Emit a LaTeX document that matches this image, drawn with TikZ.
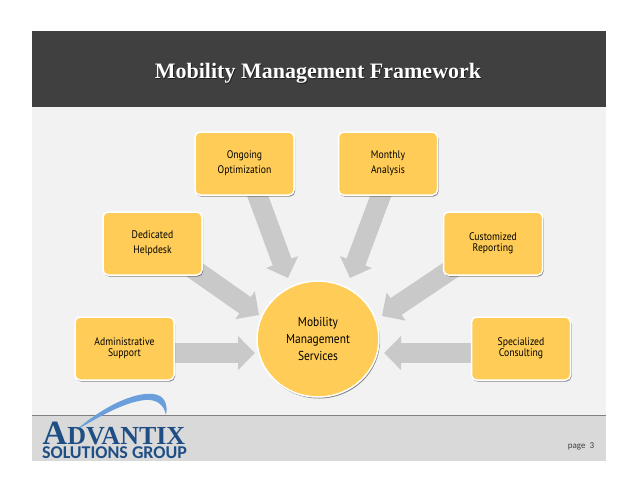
\documentclass[tikz,border=0pt]{standalone}
\usepackage{fontspec}
\setmainfont[FakeStretch=0.88]{PT Sans}
\newfontfamily\titlefont{Liberation Serif}
\newfontfamily\pagefont{Carlito}
\usetikzlibrary{arrows.meta,shadows,backgrounds,shapes.geometric}
\definecolor{headgray}{HTML}{404040}
\definecolor{panelgray}{HTML}{F2F2F2}
\definecolor{footgray}{HTML}{D9D9D9}
\definecolor{boxyellow}{HTML}{FFCD57}
\definecolor{arrowgray}{HTML}{C9C9C9}
\definecolor{logoblue}{HTML}{1F4E85}
\definecolor{swooshblue}{HTML}{6A9FDC}
\tikzset{
	main/.style = {draw=white, fill=boxyellow, line width=1.5pt, rounded corners=5pt,
		minimum width=99pt, minimum height=63pt, inner sep=0pt, align=center,
		font=\fontsize{11}{15}\selectfont, execute at begin node={\rule{0pt}{12pt}},
		drop shadow={shadow xshift=1pt, shadow yshift=-1.5pt, opacity=.45, fill=black}},
	tight/.style = {font=\fontsize{11}{11}\selectfont},
	hubcircle/.style = {ellipse, draw=white, fill=boxyellow, line width=1.5pt,
		minimum width=122pt, minimum height=116pt, inner sep=0pt, align=center,
		font=\fontsize{13}{17}\selectfont,
		drop shadow={shadow xshift=1pt, shadow yshift=-1.5pt, opacity=.45, fill=black}},
	flow/.style = {draw=arrowgray, line width=20pt, -{Triangle[width=33pt, length=17pt]}}
}
\begin{document}
\begin{tikzpicture}[x=1pt, y=-1pt]
	\useasboundingbox (0,0) rectangle (638,493);

	\node[main] (ongoing) at (244.5,163.5) {Ongoing\\Optimization};
	\node[main] (monthly) [right of=ongoing, node distance=143.5pt] {Monthly\\Analysis};
	\node[main] (dedicated) at (152.5,243.5) {Dedicated\\Helpdesk};
	\node[main, tight] (customized) [right of=dedicated, node distance=340.5pt] {Customized\\Reporting};
	\node[main, tight] (admin) at (124.5,348.5) {Administrative\\Support};
	\node[main, tight] (specialized) [right of=admin, node distance=396.5pt] {Specialized\\Consulting};
	\node[hubcircle] (hub) at (318,339) {Mobility\\Management\\Services};

	\coordinate (t1) at (255,353);
	\coordinate (t2) at (259,315);
	\coordinate (t3) at (288,278);
	\coordinate (t4) at (350,278);
	\coordinate (t5) at (382,316);
	\coordinate (t6) at (384,353);
	\coordinate (s1) at (165,353);
	\coordinate (s6) at (480,353);

	\begin{pgfonlayer}{background}
		\fill[panelgray] (32,107) rectangle (606,415);
		\fill[headgray] (32,31) rectangle (606,107);
		\fill[footgray] (32,415) rectangle (606,461);
		\draw[gray, line width=1pt] (32,415) -- (606,415);
		\draw[flow] (s1) -- (t1);
		\draw[flow] ([shift={(-14pt,10pt)}]dedicated.south east) -- (t2);
		\draw[flow] ([shift={(8pt,14pt)}]ongoing.south) -- (t3);
		\draw[flow] ([shift={(-2pt,14pt)}]monthly.south) -- (t4);
		\draw[flow] ([shift={(14pt,10pt)}]customized.south west) -- (t5);
		\draw[flow] (s6) -- (t6);
	\end{pgfonlayer}

	\node[font=\titlefont\bfseries\fontsize{22}{26}\selectfont, text=black, opacity=.6] (shade) at (318.8,73.8) {Mobility Management Framework};
	\node[font=\titlefont\bfseries\fontsize{22}{26}\selectfont, text=white] (title) at (318,73) {Mobility Management Framework};
	\node[font=\pagefont\fontsize{9}{11}\selectfont, text=black!75] (page) at (581,446) {page\ \ 3};

	\fill[swooshblue] (75,431) .. controls (105,405) and (135,392) .. (153,394)
		.. controls (165,395) and (168,405) .. (166,415)
		.. controls (164,405) and (157,399) .. (145,400)
		.. controls (125,402) and (100,416) .. (75,431) -- cycle;
	\node[font=\titlefont\bfseries\fontsize{26}{27}\selectfont, text=logoblue, inner sep=0pt, anchor=base] (advantix) at (114,444) {{\fontsize{34}{34}\selectfont A}DVANTIX};
	\node[font=\pagefont\bfseries\fontsize{18}{20}\selectfont, text=logoblue, inner sep=0pt, anchor=base] (solutions) at (114.5,458) {SOLUTIONS GROUP};
\end{tikzpicture}
\end{document}
